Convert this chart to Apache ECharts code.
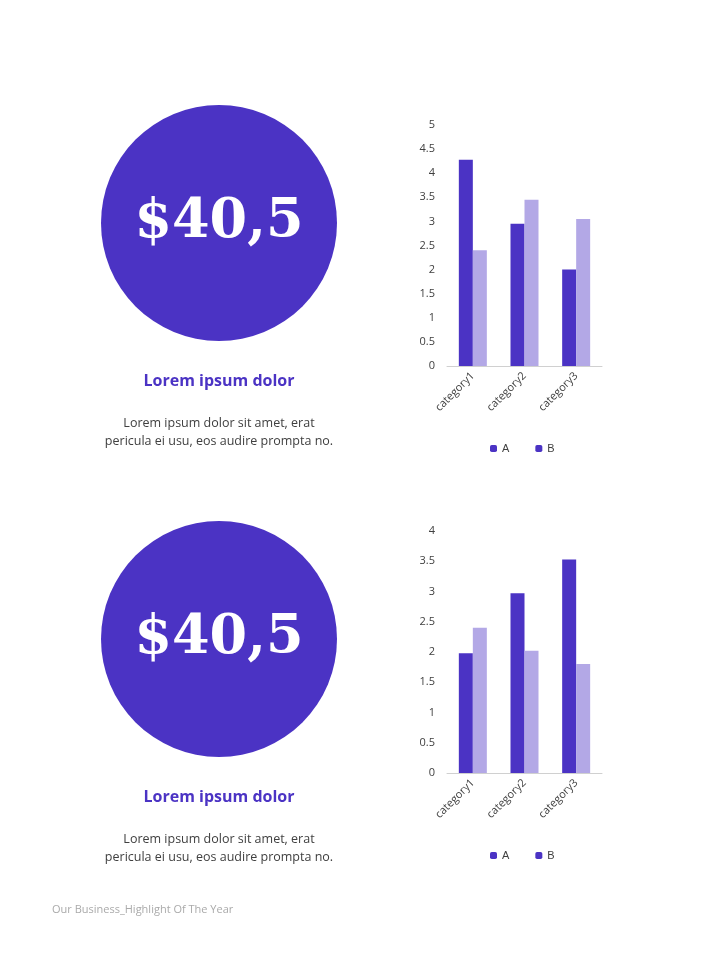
<!DOCTYPE html><html><head><meta charset="utf-8"><script src="https://cdn.jsdelivr.net/npm/echarts@6/dist/echarts.min.js"></script>
<style>body{margin:0}#c{width:720px;height:960px}</style></head><body><div id="c"></div><script>
const categories=['category1','category2','category3'];
const top_A=[4.28,2.95,2.0];
const top_B=[2.4,3.45,3.05];
const bot_A=[1.98,2.97,3.53];
const bot_B=[2.4,2.02,1.8];
const dark='#4b33c4', light='#b3a8e6';
const ch=echarts.init(document.getElementById('c'));
function block(cy){
 return [
  {type:'circle',shape:{cx:219,cy:cy,r:118},style:{fill:'#4b33c4'}},
  {type:'text',x:219,y:cy,style:{text:'$40,5',fill:'#fff',font:'bold 54px "DejaVu Serif", serif',align:'center',verticalAlign:'middle'}},
  {type:'text',x:219,y:cy+158,style:{text:'Lorem ipsum dolor',fill:'#4b33c4',font:'bold 16px "Open Sans", sans-serif',align:'center',verticalAlign:'middle'}},
  {type:'text',x:219,y:cy+200,style:{text:'Lorem ipsum dolor sit amet, erat',fill:'#404040',font:'12.5px "Open Sans", sans-serif',align:'center',verticalAlign:'middle'}},
  {type:'text',x:219,y:cy+218,style:{text:'pericula ei usu, eos audire prompta no.',fill:'#404040',font:'12.5px "Open Sans", sans-serif',align:'center',verticalAlign:'middle'}}
 ];
}
const ax={type:'category',data:categories,axisTick:{show:false},axisLine:{lineStyle:{color:'#d0d0d0'}},axisLabel:{rotate:45,color:'#404040',fontSize:11,fontFamily:'Open Sans'}};
const ay={type:'value',interval:0.5,min:0,splitLine:{show:false},axisLabel:{color:'#404040',fontSize:11,fontFamily:'Open Sans',margin:12}};
ch.setOption({
 animation:false,
 graphic:[...block(223),...block(639),{type:'text',x:52,y:910,style:{text:'Our Business_Highlight Of The Year',fill:'#aaaaaa',font:'11px "Open Sans", sans-serif',verticalAlign:'middle'}}],
 grid:[{left:447,width:155,top:125,height:241},{left:447,width:155,top:531,height:242}],
 xAxis:[Object.assign({gridIndex:0},ax),Object.assign({gridIndex:1},ax)],
 yAxis:[Object.assign({gridIndex:0,max:5},ay),Object.assign({gridIndex:1,max:4},ay)],
 legend:[{top:438,left:485,itemWidth:7,itemHeight:7,itemGap:26,textStyle:{fontSize:11,color:'#404040'},data:[{name:'A',itemStyle:{color:dark}},{name:'B',itemStyle:{color:dark}}]},
  {top:845,left:485,itemWidth:7,itemHeight:7,itemGap:26,textStyle:{fontSize:11,color:'#404040'},data:[{name:'A',itemStyle:{color:dark}},{name:'B',itemStyle:{color:dark}}]}],
 series:[
  {name:'A',type:'bar',xAxisIndex:0,yAxisIndex:0,data:top_A,barWidth:14,barGap:'0%',itemStyle:{color:dark}},
  {name:'B',type:'bar',xAxisIndex:0,yAxisIndex:0,data:top_B,barWidth:14,barGap:'0%',itemStyle:{color:light}},
  {name:'A',type:'bar',xAxisIndex:1,yAxisIndex:1,data:bot_A,barWidth:14,barGap:'0%',itemStyle:{color:dark}},
  {name:'B',type:'bar',xAxisIndex:1,yAxisIndex:1,data:bot_B,barWidth:14,barGap:'0%',itemStyle:{color:light}}
 ]
});
</script></body></html>
